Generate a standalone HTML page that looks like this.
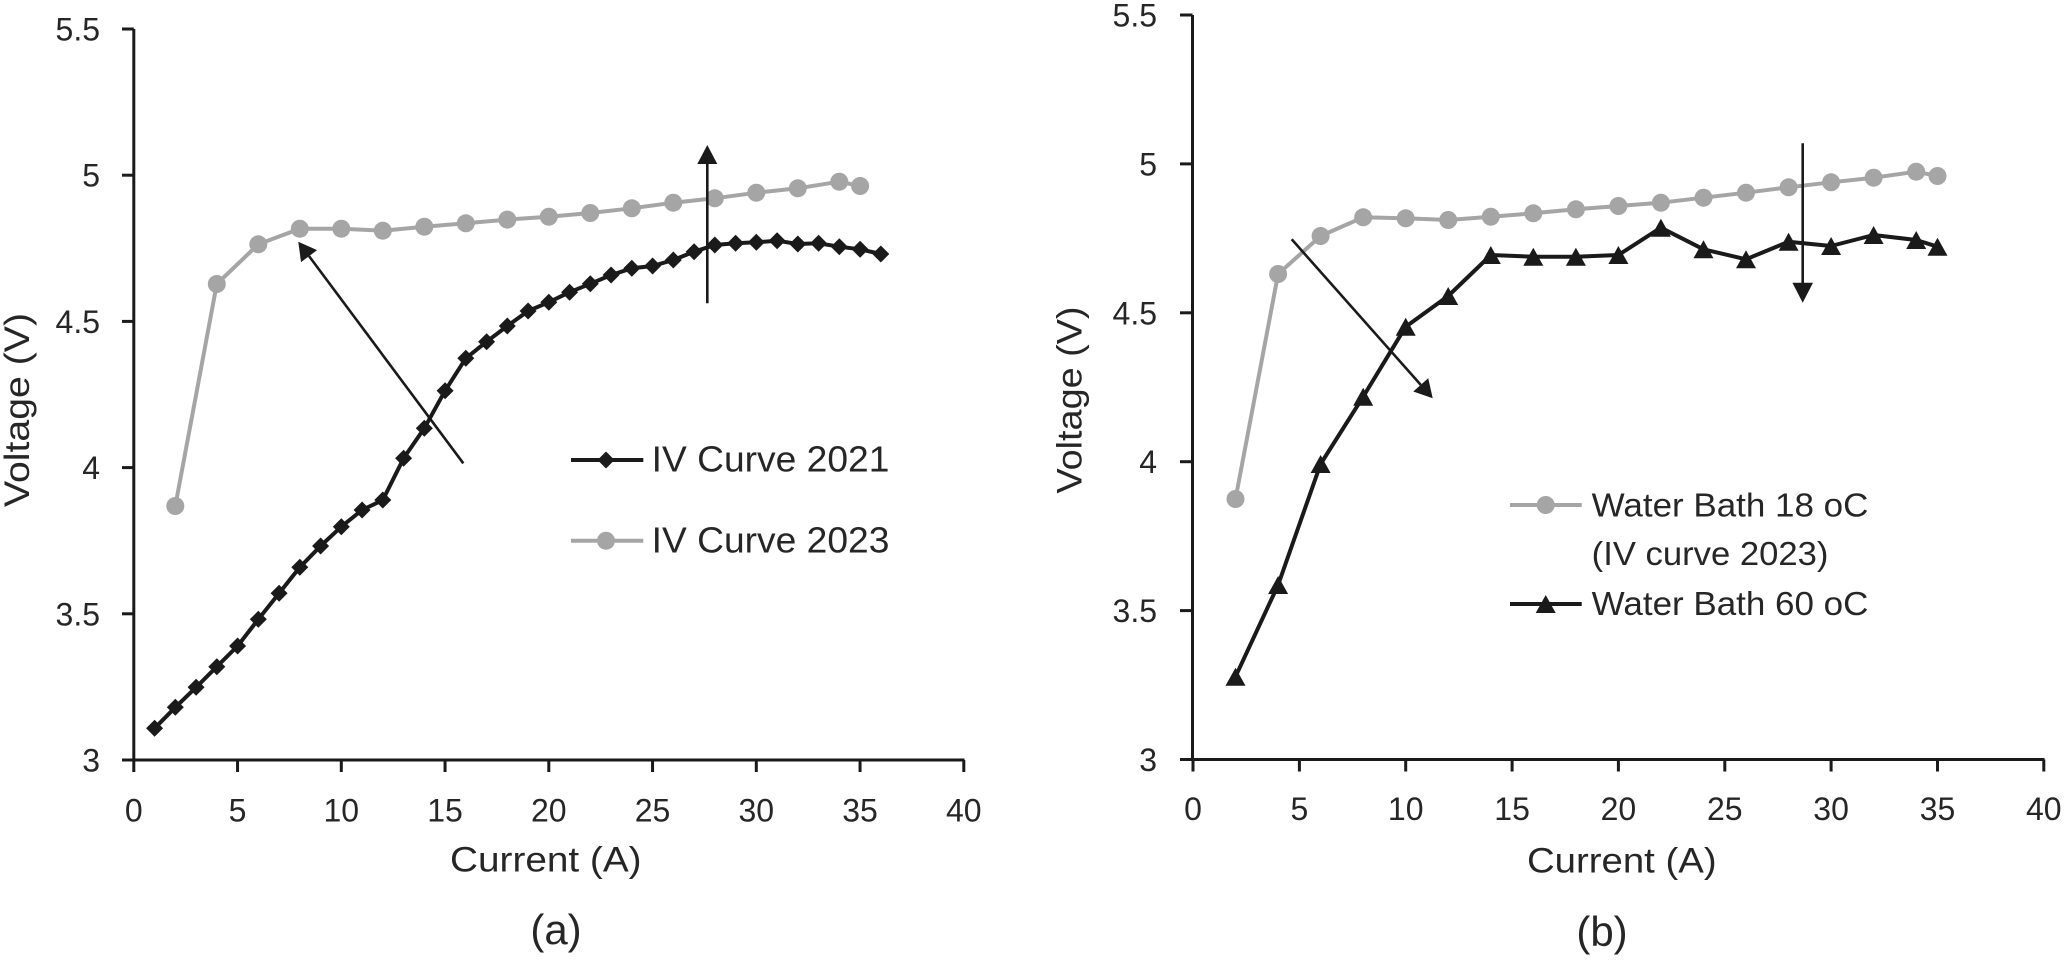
<!DOCTYPE html>
<html>
<head>
<meta charset="utf-8">
<style>
  html,body{margin:0;padding:0;background:#fff;}
  body{width:2065px;height:963px;overflow:hidden;}
  svg{display:block;}
  text{font-family:"Liberation Sans",Arial,sans-serif;fill:#262626;}
</style>
</head>
<body>
<svg width="2065" height="963" viewBox="0 0 2065 963" xmlns="http://www.w3.org/2000/svg">
  <defs>
    <path id="dia" d="M0,-8.5 L8.5,0 L0,8.5 L-8.5,0Z" fill="#1a1a1a"/>
    <circle id="cir" r="9" fill="#a5a5a5"/>
    <path id="tri" d="M0,-9 L10,9 L-10,9Z" fill="#1a1a1a"/>
  </defs>
  <rect width="2065" height="963" fill="#fff"/>

  <!-- ================= LEFT CHART (a) ================= -->
  <g stroke="#1a1a1a" stroke-width="3" fill="none">
    <line x1="133.8" y1="29" x2="133.8" y2="761.5"/>
    <line x1="132.3" y1="760" x2="964.5" y2="760"/>
    <!-- y ticks -->
    <line x1="122" y1="29" x2="133.8" y2="29"/>
    <line x1="122" y1="175.2" x2="133.8" y2="175.2"/>
    <line x1="122" y1="321.4" x2="133.8" y2="321.4"/>
    <line x1="122" y1="467.6" x2="133.8" y2="467.6"/>
    <line x1="122" y1="613.8" x2="133.8" y2="613.8"/>
    <line x1="122" y1="760" x2="133.8" y2="760"/>
    <!-- x ticks -->
    <line x1="133.8" y1="760" x2="133.8" y2="772"/>
    <line x1="237.55" y1="760" x2="237.55" y2="772"/>
    <line x1="341.3" y1="760" x2="341.3" y2="772"/>
    <line x1="445.05" y1="760" x2="445.05" y2="772"/>
    <line x1="548.8" y1="760" x2="548.8" y2="772"/>
    <line x1="652.55" y1="760" x2="652.55" y2="772"/>
    <line x1="756.3" y1="760" x2="756.3" y2="772"/>
    <line x1="860.05" y1="760" x2="860.05" y2="772"/>
    <line x1="963.8" y1="760" x2="963.8" y2="772"/>
  </g>
  <g font-size="32" text-anchor="end">
    <text x="100" y="40.5">5.5</text>
    <text x="100" y="186.7">5</text>
    <text x="100" y="332.9">4.5</text>
    <text x="100" y="479.1">4</text>
    <text x="100" y="625.3">3.5</text>
    <text x="100" y="771.5">3</text>
  </g>
  <g font-size="32" text-anchor="middle">
    <text x="133.8" y="821.7">0</text>
    <text x="237.55" y="821.7">5</text>
    <text x="341.3" y="821.7">10</text>
    <text x="445.05" y="821.7">15</text>
    <text x="548.8" y="821.7">20</text>
    <text x="652.55" y="821.7">25</text>
    <text x="756.3" y="821.7">30</text>
    <text x="860.05" y="821.7">35</text>
    <text x="963.8" y="821.7">40</text>
  </g>
  <text x="545.8" y="871.7" font-size="35" text-anchor="middle" textLength="191.5" lengthAdjust="spacingAndGlyphs">Current (A)</text>
  <text x="556" y="944" font-size="42" text-anchor="middle">(a)</text>
  <text transform="translate(29,410) rotate(-90)" font-size="35" text-anchor="middle" textLength="194" lengthAdjust="spacingAndGlyphs">Voltage (V)</text>

  <!-- black series 2021 -->
  <polyline fill="none" stroke="#1a1a1a" stroke-width="4" stroke-linejoin="round"
    points="154.6,728.3 175.3,707.3 196.1,687.3 216.8,666.7 237.6,646 258.3,619.3 279.1,593.3 299.8,567.3 320.6,546 341.3,526.7 362.1,510 382.8,500 403.6,458.3 424.3,428.3 445.1,390.7 465.8,358.3 486.6,341.7 507.3,326 528.1,311 548.8,302.2 569.6,292.2 590.3,283.8 611.1,275 631.8,268.3 652.6,266 673.3,260 694.1,251.7 714.8,245 735.6,243.3 756.3,242.3 777.1,240.7 797.8,244 818.6,243.3 839.3,246.7 860.1,249.3 880.8,254"/>
  <g>
    <use href="#dia" x="154.6" y="728.3"/><use href="#dia" x="175.3" y="707.3"/><use href="#dia" x="196.1" y="687.3"/>
    <use href="#dia" x="216.8" y="666.7"/><use href="#dia" x="237.6" y="646"/><use href="#dia" x="258.3" y="619.3"/>
    <use href="#dia" x="279.1" y="593.3"/><use href="#dia" x="299.8" y="567.3"/><use href="#dia" x="320.6" y="546"/>
    <use href="#dia" x="341.3" y="526.7"/><use href="#dia" x="362.1" y="510"/><use href="#dia" x="382.8" y="500"/>
    <use href="#dia" x="403.6" y="458.3"/><use href="#dia" x="424.3" y="428.3"/><use href="#dia" x="445.1" y="390.7"/>
    <use href="#dia" x="465.8" y="358.3"/><use href="#dia" x="486.6" y="341.7"/><use href="#dia" x="507.3" y="326"/>
    <use href="#dia" x="528.1" y="311"/><use href="#dia" x="548.8" y="302.2"/><use href="#dia" x="569.6" y="292.2"/>
    <use href="#dia" x="590.3" y="283.8"/><use href="#dia" x="611.1" y="275"/><use href="#dia" x="631.8" y="268.3"/>
    <use href="#dia" x="652.6" y="266"/><use href="#dia" x="673.3" y="260"/><use href="#dia" x="694.1" y="251.7"/>
    <use href="#dia" x="714.8" y="245"/><use href="#dia" x="735.6" y="243.3"/><use href="#dia" x="756.3" y="242.3"/>
    <use href="#dia" x="777.1" y="240.7"/><use href="#dia" x="797.8" y="244"/><use href="#dia" x="818.6" y="243.3"/>
    <use href="#dia" x="839.3" y="246.7"/><use href="#dia" x="860.1" y="249.3"/><use href="#dia" x="880.8" y="254"/>
  </g>

  <!-- gray series 2023 -->
  <polyline fill="none" stroke="#a5a5a5" stroke-width="4" stroke-linejoin="round"
    points="175.3,506 216.8,284 258.3,244.3 299.8,228.7 341.3,228.7 382.8,230.7 424.3,226.7 465.8,223.3 507.3,219.6 548.8,216.7 590.3,213 631.8,208.3 673.3,202.7 714.8,198.3 756.3,192.7 797.8,188.3 839.3,181.7 860.1,186"/>
  <g>
    <use href="#cir" x="175.3" y="506"/><use href="#cir" x="216.8" y="284"/><use href="#cir" x="258.3" y="244.3"/>
    <use href="#cir" x="299.8" y="228.7"/><use href="#cir" x="341.3" y="228.7"/><use href="#cir" x="382.8" y="230.7"/>
    <use href="#cir" x="424.3" y="226.7"/><use href="#cir" x="465.8" y="223.3"/><use href="#cir" x="507.3" y="219.6"/>
    <use href="#cir" x="548.8" y="216.7"/><use href="#cir" x="590.3" y="213"/><use href="#cir" x="631.8" y="208.3"/>
    <use href="#cir" x="673.3" y="202.7"/><use href="#cir" x="714.8" y="198.3"/><use href="#cir" x="756.3" y="192.7"/>
    <use href="#cir" x="797.8" y="188.3"/><use href="#cir" x="839.3" y="181.7"/><use href="#cir" x="860.1" y="186"/>
  </g>

  <!-- arrows left -->
  <line x1="463.3" y1="463.3" x2="309.05" y2="256.14" stroke="#1a1a1a" stroke-width="2.6"/>
  <polygon points="298.3,241.7 317.07,250.17 301.03,262.11" fill="#1a1a1a"/>
  <line x1="707.3" y1="303.3" x2="707.3" y2="162" stroke="#1a1a1a" stroke-width="2.6"/>
  <polygon points="707.3,145 697.3,164 717.3,164" fill="#1a1a1a"/>

  <!-- legend left -->
  <line x1="571" y1="460" x2="643.3" y2="460" stroke="#1a1a1a" stroke-width="4"/>
  <use href="#dia" x="606" y="460"/>
  <text x="651.7" y="471.7" font-size="36" textLength="237.7" lengthAdjust="spacingAndGlyphs">IV Curve 2021</text>
  <line x1="571" y1="540.7" x2="643.3" y2="540.7" stroke="#a5a5a5" stroke-width="4"/>
  <use href="#cir" x="606" y="540.7"/>
  <text x="651.7" y="552.7" font-size="36" textLength="237.7" lengthAdjust="spacingAndGlyphs">IV Curve 2023</text>

  <!-- ================= RIGHT CHART (b) ================= -->
  <g stroke="#1a1a1a" stroke-width="3" fill="none">
    <line x1="1192.5" y1="15" x2="1192.5" y2="761"/>
    <line x1="1191" y1="759.5" x2="2044.5" y2="759.5"/>
    <line x1="1180" y1="15" x2="1192.5" y2="15"/>
    <line x1="1180" y1="163.9" x2="1192.5" y2="163.9"/>
    <line x1="1180" y1="312.8" x2="1192.5" y2="312.8"/>
    <line x1="1180" y1="461.7" x2="1192.5" y2="461.7"/>
    <line x1="1180" y1="610.6" x2="1192.5" y2="610.6"/>
    <line x1="1180" y1="759.5" x2="1192.5" y2="759.5"/>
    <line x1="1193" y1="759.5" x2="1193" y2="771.5"/>
    <line x1="1299.4" y1="759.5" x2="1299.4" y2="771.5"/>
    <line x1="1405.7" y1="759.5" x2="1405.7" y2="771.5"/>
    <line x1="1512.1" y1="759.5" x2="1512.1" y2="771.5"/>
    <line x1="1618.4" y1="759.5" x2="1618.4" y2="771.5"/>
    <line x1="1724.8" y1="759.5" x2="1724.8" y2="771.5"/>
    <line x1="1831.1" y1="759.5" x2="1831.1" y2="771.5"/>
    <line x1="1937.5" y1="759.5" x2="1937.5" y2="771.5"/>
    <line x1="2043.8" y1="759.5" x2="2043.8" y2="771.5"/>
  </g>
  <g font-size="32" text-anchor="end">
    <text x="1157" y="26.5">5.5</text>
    <text x="1157" y="175.4">5</text>
    <text x="1157" y="324.3">4.5</text>
    <text x="1157" y="473.2">4</text>
    <text x="1157" y="622.1">3.5</text>
    <text x="1157" y="771">3</text>
  </g>
  <g font-size="32" text-anchor="middle">
    <text x="1193" y="820">0</text>
    <text x="1299.4" y="820">5</text>
    <text x="1405.7" y="820">10</text>
    <text x="1512.1" y="820">15</text>
    <text x="1618.4" y="820">20</text>
    <text x="1724.8" y="820">25</text>
    <text x="1831.1" y="820">30</text>
    <text x="1937.5" y="820">35</text>
    <text x="2043.8" y="820">40</text>
  </g>
  <text x="1621.8" y="872.7" font-size="35" text-anchor="middle" textLength="189.6" lengthAdjust="spacingAndGlyphs">Current (A)</text>
  <text x="1602" y="946" font-size="42" text-anchor="middle">(b)</text>
  <text transform="translate(1081.7,400) rotate(-90)" font-size="35" text-anchor="middle" textLength="187" lengthAdjust="spacingAndGlyphs">Voltage (V)</text>

  <!-- gray series 18 oC -->
  <polyline fill="none" stroke="#a5a5a5" stroke-width="4" stroke-linejoin="round"
    points="1235.5,499 1278.1,274 1320.6,236 1363.2,217.3 1405.7,218.3 1448.2,220 1490.8,216.7 1533.3,213.3 1575.9,209.3 1618.4,206 1660.9,202.7 1703.5,197.7 1746,192.7 1788.6,187.3 1831.1,182.3 1873.6,177.7 1916.2,171.7 1937.5,176"/>
  <g>
    <use href="#cir" x="1235.5" y="499"/><use href="#cir" x="1278.1" y="274"/><use href="#cir" x="1320.6" y="236"/>
    <use href="#cir" x="1363.2" y="217.3"/><use href="#cir" x="1405.7" y="218.3"/><use href="#cir" x="1448.2" y="220"/>
    <use href="#cir" x="1490.8" y="216.7"/><use href="#cir" x="1533.3" y="213.3"/><use href="#cir" x="1575.9" y="209.3"/>
    <use href="#cir" x="1618.4" y="206"/><use href="#cir" x="1660.9" y="202.7"/><use href="#cir" x="1703.5" y="197.7"/>
    <use href="#cir" x="1746" y="192.7"/><use href="#cir" x="1788.6" y="187.3"/><use href="#cir" x="1831.1" y="182.3"/>
    <use href="#cir" x="1873.6" y="177.7"/><use href="#cir" x="1916.2" y="171.7"/><use href="#cir" x="1937.5" y="176"/>
  </g>

  <!-- black series 60 oC -->
  <polyline fill="none" stroke="#1a1a1a" stroke-width="4" stroke-linejoin="round"
    points="1235.5,676.7 1278.1,585 1320.6,464 1363.2,396.7 1405.7,326.7 1448.2,296 1490.8,255 1533.3,256.7 1575.9,256.7 1618.4,255 1660.9,227.7 1703.5,249.3 1746,259.3 1788.6,241.7 1831.1,246 1873.6,235 1916.2,240 1937.5,246.7"/>
  <g>
    <use href="#tri" x="1235.5" y="676.7"/><use href="#tri" x="1278.1" y="585"/><use href="#tri" x="1320.6" y="464"/>
    <use href="#tri" x="1363.2" y="396.7"/><use href="#tri" x="1405.7" y="326.7"/><use href="#tri" x="1448.2" y="296"/>
    <use href="#tri" x="1490.8" y="255"/><use href="#tri" x="1533.3" y="256.7"/><use href="#tri" x="1575.9" y="256.7"/>
    <use href="#tri" x="1618.4" y="255"/><use href="#tri" x="1660.9" y="227.7"/><use href="#tri" x="1703.5" y="249.3"/>
    <use href="#tri" x="1746" y="259.3"/><use href="#tri" x="1788.6" y="241.7"/><use href="#tri" x="1831.1" y="246"/>
    <use href="#tri" x="1873.6" y="235"/><use href="#tri" x="1916.2" y="240"/><use href="#tri" x="1937.5" y="246.7"/>
  </g>

  <!-- arrows right -->
  <line x1="1291.7" y1="239.3" x2="1420.76" y2="384.83" stroke="#1a1a1a" stroke-width="2.6"/>
  <polygon points="1432.7,398.3 1413.28,391.47 1428.24,378.19" fill="#1a1a1a"/>
  <line x1="1802.7" y1="143.3" x2="1802.7" y2="285" stroke="#1a1a1a" stroke-width="2.6"/>
  <polygon points="1802.7,302.7 1792.4,282.7 1813,282.7" fill="#1a1a1a"/>

  <!-- legend right -->
  <line x1="1510" y1="505" x2="1581.7" y2="505" stroke="#a5a5a5" stroke-width="4"/>
  <use href="#cir" x="1545.7" y="505"/>
  <text x="1591.7" y="516.7" font-size="33" textLength="276.7" lengthAdjust="spacingAndGlyphs">Water Bath 18 oC</text>
  <text x="1591.7" y="565" font-size="33" textLength="236.7" lengthAdjust="spacingAndGlyphs">(IV curve 2023)</text>
  <line x1="1510" y1="604" x2="1581.7" y2="604" stroke="#1a1a1a" stroke-width="4"/>
  <use href="#tri" x="1545.7" y="604"/>
  <text x="1591.7" y="615" font-size="33" textLength="276.7" lengthAdjust="spacingAndGlyphs">Water Bath 60 oC</text>
</svg>
</body>
</html>
